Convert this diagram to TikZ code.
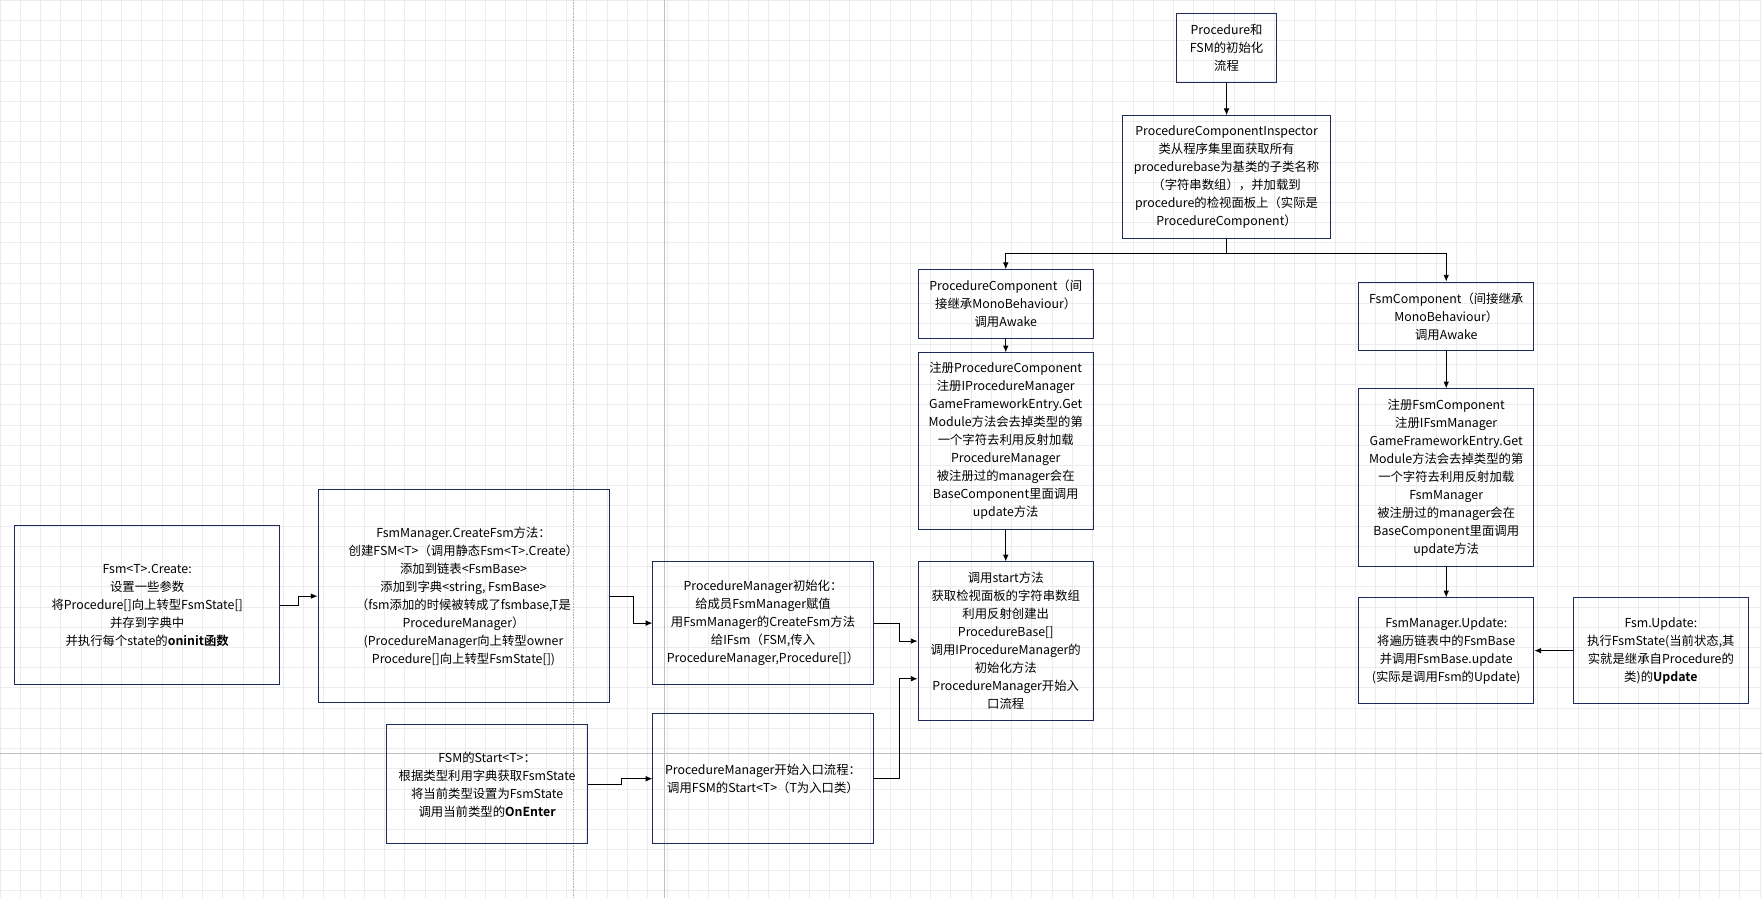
\documentclass[tikz,border=0pt]{standalone}
\usepackage{fontspec}
\setmainfont{Noto Sans CJK SC}[BoldFont={Noto Sans CJK SC Bold}]
\usetikzlibrary{arrows.meta}
\definecolor{bd}{HTML}{1F2A5C}
\begin{document}
\begin{tikzpicture}[x=1pt,y=-1pt,
  box/.style={draw=bd,line width=0.9pt,align=center,inner sep=2pt,font=\fontsize{11}{16}\selectfont},
  ar/.style={draw=black,line width=0.8pt,-{Latex[length=6pt,width=5pt]}}]
\useasboundingbox (0,0) rectangle (1568,799);
\fill[white] (0,0) rectangle (1568,799);
\draw[gray!15,step=18pt] (0,0) grid (1568,799);
\draw[gray!60,densely dotted] (510,0) -- (510,799);
\draw[gray!50] (591,0) -- (591,799);
\draw[gray!50] (0,670) -- (1568,670);
\node[box,minimum width=89,minimum height=61] (A) at (1091.5,42.5) {Procedure和\\FSM的初始化\\流程};
\node[box,minimum width=185,minimum height=109] (B) at (1091.5,157.5) {ProcedureComponentInspector\\类从程序集里面获取所有\\procedurebase为基类的子类名称\\（字符串数组），并加载到\\procedure的检视面板上（实际是\\ProcedureComponent）};
\node[box,minimum width=156,minimum height=61] (C) at (895,270.5) {ProcedureComponent（间\\接继承MonoBehaviour）\\调用Awake};
\node[box,minimum width=156,minimum height=61] (D) at (1287,281.5) {FsmComponent（间接继承\\MonoBehaviour）\\调用Awake};
\node[box,minimum width=156,minimum height=157] (E) at (895,392.5) {注册ProcedureComponent\\注册IProcedureManager\\GameFrameworkEntry.Get\\Module方法会去掉类型的第\\一个字符去利用反射加载\\ProcedureManager\\被注册过的manager会在\\BaseComponent里面调用\\update方法};
\node[box,minimum width=156,minimum height=158] (F) at (1287,425) {注册FsmComponent\\注册IFsmManager\\GameFrameworkEntry.Get\\Module方法会去掉类型的第\\一个字符去利用反射加载\\FsmManager\\被注册过的manager会在\\BaseComponent里面调用\\update方法};
\node[box,minimum width=156,minimum height=141] (G) at (895,570.5) {调用start方法\\获取检视面板的字符串数组\\利用反射创建出\\ProcedureBase[]\\调用IProcedureManager的\\初始化方法\\ProcedureManager开始入\\口流程};
\node[box,minimum width=156,minimum height=94] (H) at (1287,579) {FsmManager.Update:\\将遍历链表中的FsmBase\\并调用FsmBase.update\\(实际是调用Fsm的Update)};
\node[box,minimum width=156,minimum height=94] (I) at (1478,579) {Fsm.Update:\\执行FsmState(当前状态,其\\实就是继承自Procedure的\\类)的\textbf{Update}};
\node[box,minimum width=196,minimum height=109] (J) at (679,554.5) {ProcedureManager初始化：\\给成员FsmManager赋值\\用FsmManager的CreateFsm方法\\给IFsm（FSM,传入\\ProcedureManager,Procedure[]）};
\node[box,minimum width=259,minimum height=189] (K) at (412.5,530.5) {FsmManager.CreateFsm方法：\\创建FSM<T>（调用静态Fsm<T>.Create）\\添加到链表<FsmBase>\\添加到字典<string, FsmBase>\\（fsm添加的时候被转成了fsmbase,T是\\ProcedureManager）\\(ProcedureManager向上转型owner\\Procedure[]向上转型FsmState[])};
\node[box,minimum width=236,minimum height=141] (L) at (131,538.5) {Fsm<T>.Create:\\设置一些参数\\将Procedure[]向上转型FsmState[]\\并存到字典中\\并执行每个state的\textbf{oninit函数}};
\node[box,minimum width=179,minimum height=106] (M) at (433.5,698) {FSM的Start<T>：\\根据类型利用字典获取FsmState\\将当前类型设置为FsmState\\调用当前类型的\textbf{OnEnter}};
\node[box,minimum width=196,minimum height=116] (N) at (679,693) {ProcedureManager开始入口流程：\\调用FSM的Start<T>（T为入口类）};
\draw[ar] (A) -- (B);
\draw[ar] (B.south) -- ++(0,13) -| (C.north);
\draw[ar] (B.south) -- ++(0,13) -| (D.north);
\draw[ar] (C) -- (E);
\draw[ar] (E) -- (G);
\draw[ar] (D) -- (F);
\draw[ar] (F) -- (H);
\draw[ar] (I) -- (H);
\draw[ar] (L.east) -- ++(16,0) |- (K.west);
\draw[ar] (K.east) -- ++(21,0) |- (J.west);
\draw[ar] (J.east) -- ++(23,0) |- (G.west);
\draw[ar] (N.east) -- ++(23,0) |- ([yshift=-33.5pt]G.west);
\draw[ar] (M.east) -- ++(30,0) |- (N.west);
\end{tikzpicture}
\end{document}
